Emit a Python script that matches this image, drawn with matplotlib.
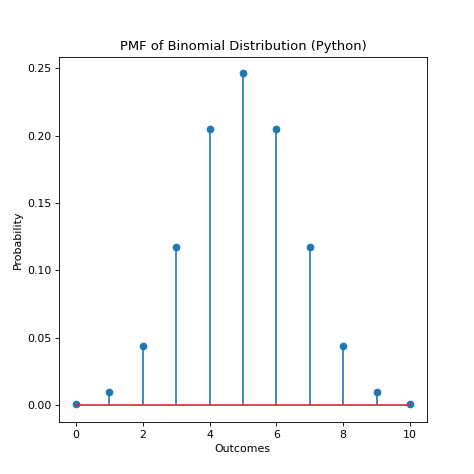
import matplotlib
matplotlib.use("Agg")
import matplotlib.pyplot as plt

outcomes = [0, 1, 2, 3, 4, 5, 6, 7, 8, 9, 10]
probabilities = [0.000977, 0.009766, 0.043945, 0.117188, 0.205078, 0.246094,
                 0.205078, 0.117188, 0.043945, 0.009766, 0.000977]

fig, ax = plt.subplots(figsize=(6, 6), dpi=79)
ax.stem(outcomes, probabilities)
ax.set_title("PMF of Binomial Distribution (Python)")
ax.set_xlabel("Outcomes")
ax.set_ylabel("Probability")
fig.savefig("out.png", dpi=79)
